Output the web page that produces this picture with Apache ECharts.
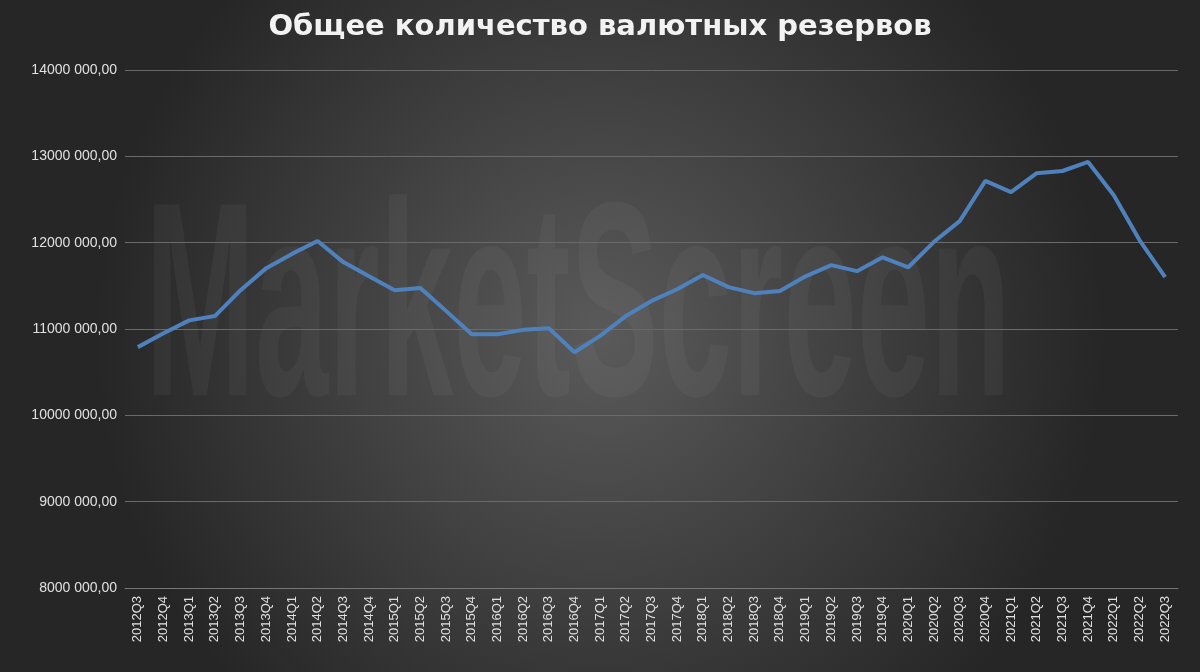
<!DOCTYPE html>
<html><head><meta charset="utf-8">
<script src="https://cdn.jsdelivr.net/npm/echarts@6/dist/echarts.min.js"></script>
<style>html,body{margin:0;padding:0;}#c{width:1200px;height:672px;}</style>
</head><body><div id="c"></div>
<script>
const categories = ["2012Q3","2012Q4","2013Q1","2013Q2","2013Q3","2013Q4","2014Q1","2014Q2","2014Q3","2014Q4","2015Q1","2015Q2","2015Q3","2015Q4","2016Q1","2016Q2","2016Q3","2016Q4","2017Q1","2017Q2","2017Q3","2017Q4","2018Q1","2018Q2","2018Q3","2018Q4","2019Q1","2019Q2","2019Q3","2019Q4","2020Q1","2020Q2","2020Q3","2020Q4","2021Q1","2021Q2","2021Q3","2021Q4","2022Q1","2022Q2","2022Q3"];
const reserves = [10790,10950,11100,11150,11450,11705,11870,12020,11775,11610,11450,11475,11210,10940,10940,10990,11010,10730,10920,11150,11325,11460,11625,11485,11415,11440,11610,11740,11670,11830,11715,12010,12250,12715,12585,12805,12830,12935,12550,12030,11600];
const yTicks = {min:8000,max:14000,interval:1000};
const chart = echarts.init(document.getElementById('c'));
chart.setOption({
  backgroundColor: {type:'radial',x:0.5,y:0.5,r:0.75,colorStops:[{offset:0,color:'#5a5a5a'},{offset:1,color:'#262626'}]},
  title:{text:'Общее количество валютных резервов',left:'center',top:8,textStyle:{color:'#f2f2f2',fontSize:29,fontWeight:'bold',fontFamily:'DejaVu Sans, Arial'}},
  graphic:[{type:'text',left:145,top:180,z:0,scaleY:2.1,style:{text:'MarketScreen',fill:'rgba(255,255,255,0.04)',font:'bold 132px Liberation Sans, Arial'}}],
  grid:{left:125,right:22,top:70,bottom:84},
  xAxis:{type:'category',data:categories,boundaryGap:true,axisTick:{show:false},axisLine:{lineStyle:{color:'#777'}},
    axisLabel:{rotate:90,color:'#e0e0e0',fontSize:13,interval:0,fontFamily:'Liberation Sans, Arial'}},
  yAxis:{type:'value',min:yTicks.min,max:yTicks.max,interval:yTicks.interval,axisLine:{show:false},
    splitLine:{lineStyle:{color:'#6a6a6a'}},
    axisLabel:{color:'#e0e0e0',fontSize:14,fontFamily:'Liberation Sans, Arial',formatter:v=>v+' 000,00'}},
  series:[{type:'line',data:reserves,showSymbol:false,lineStyle:{color:'#4f81bd',width:4},itemStyle:{color:'#4f81bd'}}]
});
</script></body></html>
